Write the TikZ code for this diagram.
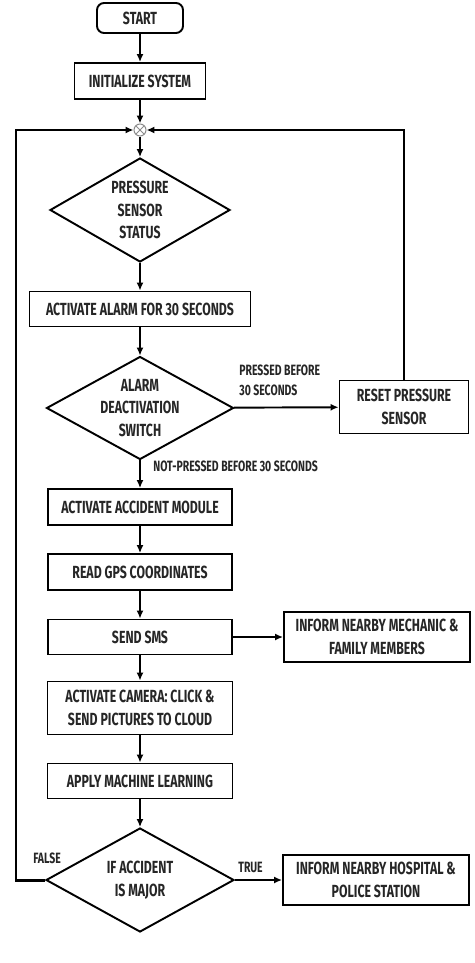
\documentclass[tikz,border=0pt]{standalone}
\usepackage{fontspec}
\setmainfont{Fira Sans}[FakeStretch=0.7]
\usetikzlibrary{shapes.geometric,arrows.meta}

\begin{document}
\begin{tikzpicture}[x=0.02cm,y=-0.02cm,
		>={Latex[length=4.5pt,width=4pt]},
		every node/.style={font=\bfseries\fontsize{10}{13}\selectfont, text=black!85},
		boxsize/.style 2 args={minimum width=#1*0.02cm, minimum height=#2*0.02cm},
		box/.style={draw, line width=1.1pt, align=center, inner sep=0pt},
		decision/.style={draw, diamond, line width=1.1pt, align=center, inner sep=0pt, shape aspect=1.8},
		line/.style={line width=1.1pt, ->},
		loopline/.style={line width=1.7pt, ->},
		note/.style={font=\bfseries\fontsize{8.5}{11.5}\selectfont, inner sep=0pt, align=left, anchor=west}]
		
		\useasboundingbox (0,0) rectangle (474,963);
		
		% Start und Initialisierung
		\node[box, rounded corners=4pt, boxsize={86}{30}] (start) at (140,18) {START};
		\node[box, boxsize={131}{36}] (init) at (140,81) {INITIALIZE SYSTEM};
		\node[draw=black!45, circle, line width=0.6pt, minimum size=12*0.02cm, inner sep=0pt,
			path picture={\draw[black!45, line width=0.6pt]
				(path picture bounding box.north west) -- (path picture bounding box.south east)
				(path picture bounding box.north east) -- (path picture bounding box.south west);}]
			(join) at (140,130) {};
		
		% Drucksensor und Alarm
		\node[decision, boxsize={180}{104}] (sensor) at (140,210) {PRESSURE\\SENSOR\\STATUS};
		\node[box, boxsize={221}{35}] (alarm) at (140,309) {ACTIVATE ALARM FOR 30 SECONDS};
		\node[decision, boxsize={187}{103}] (switch) at (140,408) {ALARM\\DEACTIVATION\\SWITCH};
		\node[box, boxsize={129}{53}] (reset) at (404,407) {RESET PRESSURE\\SENSOR};
		
		% Unfallmodul
		\node[box, boxsize={184}{36}] (module) at (140,507) {ACTIVATE ACCIDENT MODULE};
		\node[box, boxsize={184}{36}] (gps) at (140,572) {READ GPS COORDINATES};
		\node[box, boxsize={184}{35}] (sms) at (140,637) {SEND SMS};
		\node[box, boxsize={186}{50}] (mechanic) at (377,637) {INFORM NEARBY MECHANIC \&\\FAMILY MEMBERS};
		\node[box, boxsize={185}{53}] (camera) at (140,708) {ACTIVATE CAMERA: CLICK \&\\SEND PICTURES TO CLOUD};
		\node[box, boxsize={185}{35}] (ml) at (140,781) {APPLY MACHINE LEARNING};
		\node[decision, boxsize={188}{104}] (major) at (140,880) {IF ACCIDENT\\IS MAJOR};
		\node[box, boxsize={186}{50}] (hospital) at (376,880) {INFORM NEARBY HOSPITAL \&\\POLICE STATION};
		
		% Beschriftungen
		\node[note] (pressed) at (239,380) {PRESSED BEFORE\\30 SECONDS};
		\node[note] (notpressed) at (153,466) {NOT-PRESSED BEFORE 30 SECONDS};
		\node[note] (false) at (33,858) {FALSE};
		\node[note] (true) at (238,867) {TRUE};
		
		% Hauptablauf
		\draw[line] (start) -- (init);
		\draw[line] (init) -- (join);
		\draw[line] (join) -- (sensor);
		\draw[line] (sensor) -- (alarm);
		\draw[line] (alarm) -- (switch);
		\draw[line] (switch) -- (module);
		\draw[line] (module) -- (gps);
		\draw[line] (gps) -- (sms);
		\draw[line] (sms) -- (camera);
		\draw[line] (camera) -- (ml);
		\draw[line] (ml) -- (major);
		
		% Seitenzweige
		\draw[line] (switch) -- (reset);
		\draw[line] (sms) -- (mechanic);
		\draw[line] (major) -- (hospital);
		
		% Rueckfuehrungen
		\coordinate (back) at (16,880);
		\draw[loopline] (reset.north) |- (join.east);
		\draw[loopline] (major.west) -- (back) |- (join.west);
		
	\end{tikzpicture}
\end{document}
